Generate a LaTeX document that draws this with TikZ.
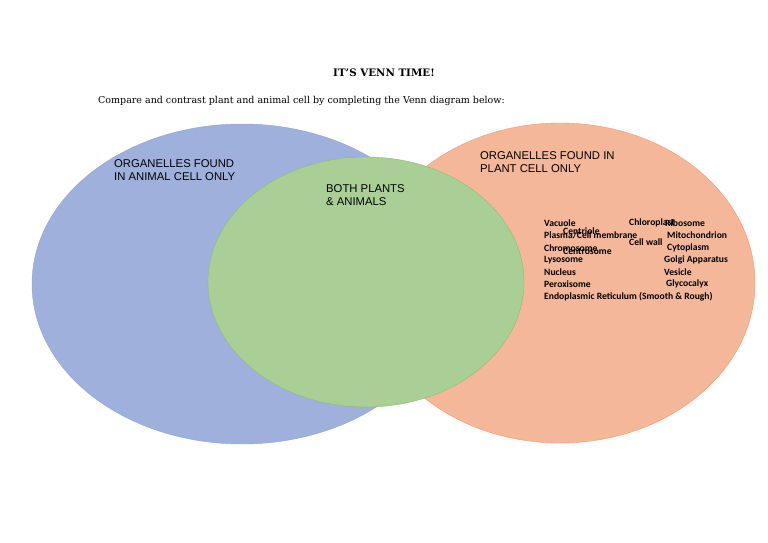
\documentclass[tikz,border=0pt]{standalone}
\usepackage{fontspec}
\setmainfont{DejaVu Serif}
\newfontfamily\carl{Carlito}
\newfontfamily\lsans{Liberation Sans}
\begin{document}
\begin{tikzpicture}[x=1pt,y=-1pt,
  org/.style={anchor=west,inner sep=0pt,font=\carl\bfseries\fontsize{9.6}{10}\selectfont},
  hdr/.style={anchor=north west,inner sep=0pt,align=left,font=\lsans\fontsize{11.3}{13}\selectfont}]
\useasboundingbox[fill=white] (0,0) rectangle (768,543);
\draw[draw={rgb,255:red,143;green,163;blue,214},fill={rgb,255:red,160;green,176;blue,221}] (242,284) ellipse [x radius=210,y radius=160];
\draw[draw={rgb,255:red,238;green,154;blue,112},fill={rgb,255:red,245;green,183;blue,154}] (560,283) ellipse [x radius=195,y radius=160];
\draw[draw={rgb,255:red,140;green,190;blue,110},fill={rgb,255:red,170;green,207;blue,150}] (366,282) ellipse [x radius=158,y radius=125];
\node[font=\bfseries\fontsize{10.3}{12}\selectfont] (title) at (384,73) {IT'S VENN TIME!};
\node[anchor=west,inner sep=0pt,font=\fontsize{9.5}{10}\selectfont] (sub) at (98,101) {Compare and contrast plant and animal cell by completing the Venn diagram below:};
\node[hdr] (an) at (114,159) {ORGANELLES FOUND\\IN ANIMAL CELL ONLY};
\node[hdr] (pl) at (480,151) {ORGANELLES FOUND IN\\PLANT CELL ONLY};
\node[hdr] (both) at (326,184) {BOTH PLANTS\\\& ANIMALS};
\node[org] (o1) at (544,223) {Vacuole};
\node[org] (o2) at (544,235) {Plasma/Cell membrane};
\node[org] (o3) at (544,248) {Chromosome};
\node[org] (o4) at (544,260) {Lysosome};
\node[org] (o5) at (544,272) {Nucleus};
\node[org] (o6) at (544,284) {Peroxisome};
\node[org] (o7) at (544,297) {Endoplasmic Reticulum (Smooth \& Rough)};
\node[org] (o8) at (563,231) {Centriole};
\node[org] (o9) at (563,251) {Centrosome};
\node[org] (o10) at (629,223) {Chloroplast};
\node[org] (o11) at (629,242) {Cell wall};
\node[org] (o12) at (665,223) {Ribosome};
\node[org] (o13) at (667,235) {Mitochondrion};
\node[org] (o14) at (667,248) {Cytoplasm};
\node[org] (o15) at (664,260) {Golgi Apparatus};
\node[org] (o16) at (664,272) {Vesicle};
\node[org] (o17) at (666,284) {Glycocalyx};
\end{tikzpicture}
\end{document}
